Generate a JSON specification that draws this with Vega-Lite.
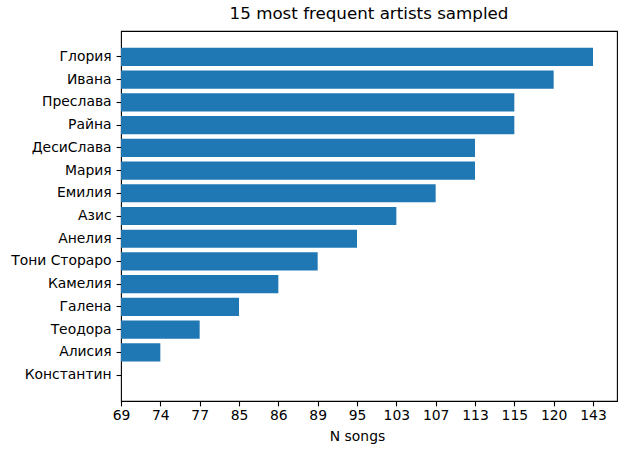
{
  "$schema": "https://vega.github.io/schema/vega-lite/v6.json",
  "width": 496,
  "height": 370,
  "autosize": {"type": "none"},
  "padding": {"left": 121, "top": 31, "right": 9, "bottom": 52},
  "title": {
    "text": "15 most frequent artists sampled",
    "font": "DejaVu Sans",
    "fontSize": 16.7,
    "fontWeight": "normal",
    "color": "black",
    "offset": 8
  },
  "config": {
    "view": {"stroke": "black", "strokeWidth": 1.1},
    "font": "DejaVu Sans"
  },
  "data": {
    "values": [
      {"artist": "Глория", "n_songs": 143},
      {"artist": "Ивана", "n_songs": 120},
      {"artist": "Преслава", "n_songs": 115},
      {"artist": "Райна", "n_songs": 115},
      {"artist": "ДесиСлава", "n_songs": 113},
      {"artist": "Мария", "n_songs": 113},
      {"artist": "Емилия", "n_songs": 107},
      {"artist": "Азис", "n_songs": 103},
      {"artist": "Анелия", "n_songs": 95},
      {"artist": "Тони Стораро", "n_songs": 89},
      {"artist": "Камелия", "n_songs": 86},
      {"artist": "Галена", "n_songs": 85},
      {"artist": "Теодора", "n_songs": 77},
      {"artist": "Алисия", "n_songs": 74},
      {"artist": "Константин", "n_songs": 69}
    ]
  },
  "mark": {"type": "bar", "color": "#1f77b4"},
  "encoding": {
    "y": {
      "field": "artist",
      "type": "nominal",
      "sort": null,
      "scale": {"paddingInner": 0.2, "paddingOuter": 0.74},
      "axis": {
        "title": null,
        "domain": false,
        "grid": false,
        "tickColor": "black",
        "tickSize": 4.9,
        "tickWidth": 1.1,
        "labelColor": "black",
        "labelFontSize": 13.9,
        "labelPadding": 5
      }
    },
    "x": {
      "field": "n_songs",
      "type": "ordinal",
      "sort": "ascending",
      "scale": {"type": "point", "padding": 0, "range": [0, 472]},
      "axis": {
        "title": "N songs",
        "titleFontSize": 13.9,
        "titleFontWeight": "normal",
        "titleColor": "black",
        "titlePadding": 7,
        "domain": false,
        "grid": false,
        "labelAngle": 0,
        "tickColor": "black",
        "tickSize": 4.9,
        "tickWidth": 1.1,
        "labelColor": "black",
        "labelFontSize": 13.9,
        "labelPadding": 3
      }
    },
    "x2": {"datum": 69}
  }
}
